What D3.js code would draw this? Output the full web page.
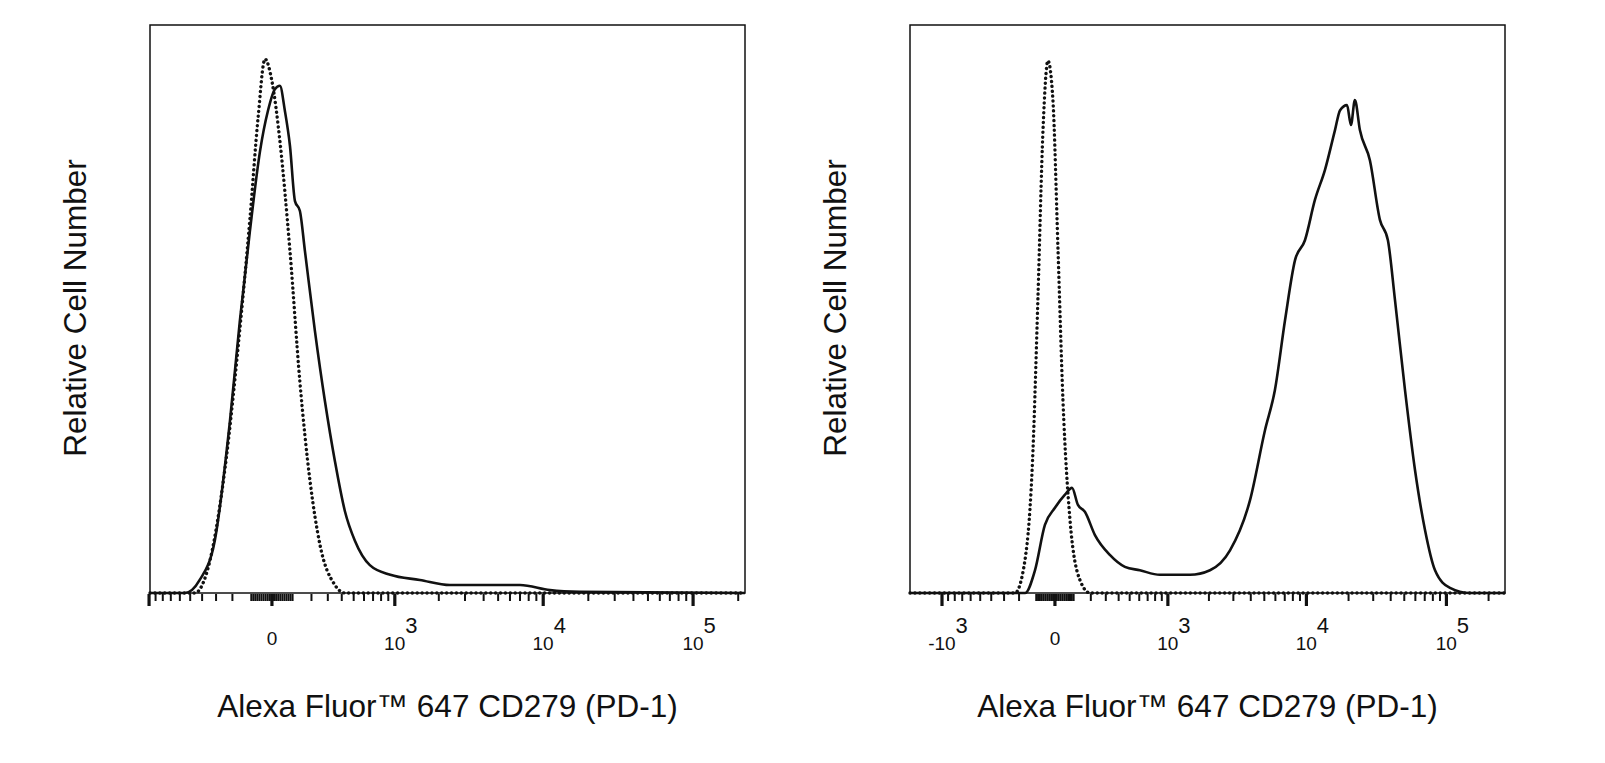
<!DOCTYPE html><html><head><meta charset="utf-8"><script src="https://cdn.jsdelivr.net/npm/d3@7"></script>
<style>body{margin:0;background:#fff}svg{font-family:"Liberation Sans",Arial,sans-serif}</style></head><body><svg id="c" width="1605" height="763"></svg>
<script>
// intensity values and relative counts (% of axis height)
const leftSolidX=[-985,-549,-419,-308,-214,-159,-107,-57,-19,14,38,62,87,112,137,164,220,281,349,425,511,663,930,1488,2378,7000,11100,17600,222000];
const leftSolidY=[0,0,2.3,9.3,30.3,47.9,63.7,77.8,84.9,88.7,89.3,84.9,78.7,69.0,67.3,60.2,46.1,33.8,23.2,14.4,9.2,4.9,3.2,2.3,1.4,1.4,0.5,0.2,0];
const leftDotX=[-985,-459,-341,-244,-159,-107,-67,-33,0,38,87,137,192,250,349,425,222000];
const leftDotY=[0,0,5.8,21.8,46.5,65.8,83.5,94.0,90.1,79.6,60.2,37.3,19.7,8.5,1.4,0,0];
const rightSolidX=[-1720,-164,-107,-53,0,53,91,124,164,226,330,455,607,870,1456,2036,2838,3946,5060,5950,7040,8290,9760,11500,13570,16000,17400,19500,20800,22200,24100,28400,33500,38200,42900,50600,59600,70300,82900,106000,147000,262000];
const rightSolidY=[0,0,4.0,12.0,15.0,17.3,18.5,15.5,14.3,10.2,6.7,4.6,4.0,3.2,3.2,4.0,7.5,16.3,28.7,35.7,48.1,58.6,62.1,69.2,74.5,81.5,85.0,85.9,82.4,86.8,81.5,76.2,65.7,62.1,51.6,35.7,21.7,11.1,4.0,0.9,0,0];
const rightDotX=[-1720,-226,-164,-118,-91,-63,-37,-11,16,42,80,135,195,262000];
const rightDotY=[0,0,5.8,25.2,51.6,81.7,93.7,87.0,60.6,34.2,12.9,2.3,0,0];
const xTickLabelsLeft=["0","10^3","10^4","10^5"];
const xTickLabelsRight=["-10^3","0","10^3","10^4","10^5"];
const xTitle="Alexa Fluor™ 647 CD279 (PD-1)", yTitle="Relative Cell Number";

const svg=d3.select("#c");
function panel(x0,x1,zeroPx,decade,w,dom,sX,sY,dX,dY,labels){
  const T=v=>Math.asinh(v/w);
  const lin=d3.scaleLinear().domain([T(dom[0]),T(dom[1])]).range([x0,x1]);
  const x=v=>lin(T(v));
  const y=d3.scaleLinear().domain([0,100]).range([593,25]);
  const g=svg.append("g");
  const line=(X,Y)=>d3.line().x((d,i)=>x(X[i])).y((d,i)=>y(Y[i])).curve(d3.curveMonotoneX)(X);
  g.append("path").attr("d",line(dX,dY)).attr("fill","none").attr("stroke","#111").attr("stroke-width",3.4).attr("stroke-dasharray","0.1 4.8").attr("stroke-linecap","round");
  g.append("path").attr("d",line(sX,sY)).attr("fill","none").attr("stroke","#111").attr("stroke-width",2.6);
  g.append("rect").attr("x",x0).attr("y",25).attr("width",x1-x0).attr("height",568).attr("fill","none").attr("stroke","#111").attr("stroke-width",1.5);
  const ticks=[];
  for(let n=1;n<=5;n++)for(let k=1;k<=9;k++){ticks.push([k*10**n,k===1&&n>=3]);ticks.push([-k*10**n,k===1&&n>=3]);}
  ticks.push([0,true]);
  ticks.forEach(([v,maj])=>{const px=x(v);if(px<x0-1||px>x1+1)return;
    g.append("line").attr("x1",px).attr("x2",px).attr("y1",594).attr("y2",maj?606:601).attr("stroke","#111").attr("stroke-width",maj?3.2:2);});
  labels.forEach(l=>{
    let v; if(l==="0")v=0; else {const neg=l[0]==="-";const e=+l.split("^")[1];v=(neg?-1:1)*10**e;}
    const t=g.append("text").attr("x",x(v)+(l==="0"?0:6)).attr("y",l==="0"?645:650).attr("text-anchor","middle").attr("font-size",19).attr("fill","#111");
    if(l==="0")t.text("0"); else {const p=l.split("^");t.append("tspan").text(p[0]);t.append("tspan").attr("dy",-17).attr("font-size",22).text(p[1]);}
  });
  g.append("text").attr("x",(x0+x1)/2).attr("y",717).attr("text-anchor","middle").attr("font-size",31.5).attr("fill","#111").text(xTitle);
  g.append("text").attr("transform",`translate(${x0-64},308) rotate(-90)`).attr("text-anchor","middle").attr("font-size",31.5).attr("fill","#111").text(yTitle);
}
panel(150,745,272,150,310,[-985,222000],leftSolidX,leftSolidY,leftDotX,leftDotY,xTickLabelsLeft);
panel(910,1505,1055,140,320,[-1720,262000],rightSolidX,rightSolidY,rightDotX,rightDotY,xTickLabelsRight);
</script></body></html>
